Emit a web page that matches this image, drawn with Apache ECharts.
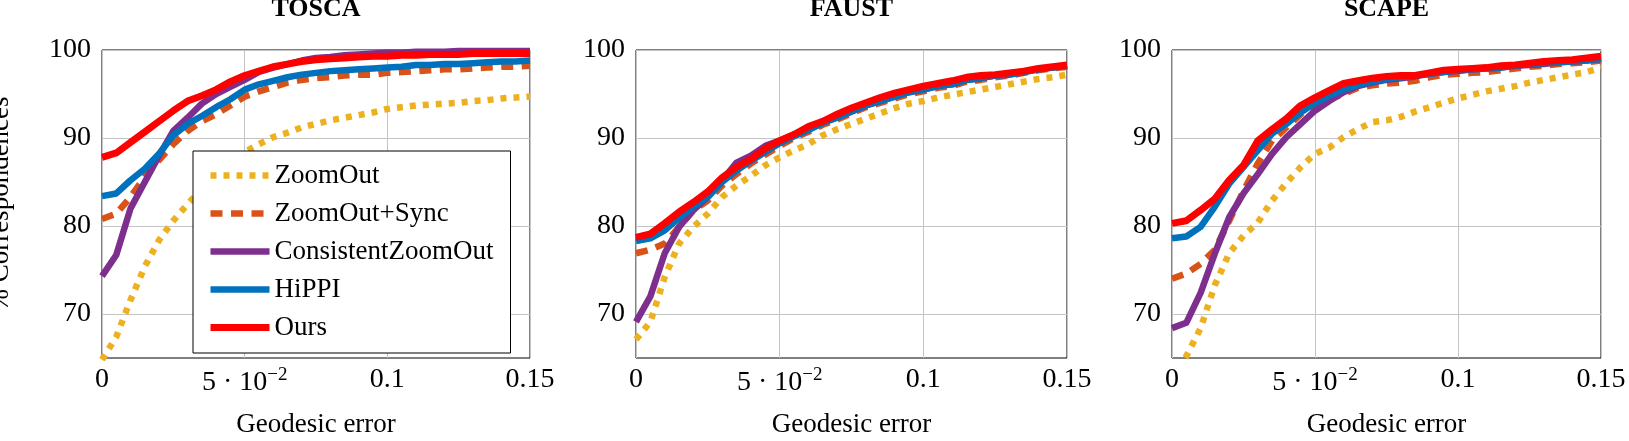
<!DOCTYPE html>
<html>
<head>
<meta charset="utf-8">
<script src="https://cdn.jsdelivr.net/npm/echarts@6/dist/echarts.min.js"></script>
<style>
html,body{margin:0;padding:0;background:#fff;}
#chart{width:1629px;height:441px;}
</style>
</head>
<body>
<div id="chart"></div>
<script>
// ---- data ----
const datasets = ['TOSCA', 'FAUST', 'SCAPE'];
const methods = ['ZoomOut', 'ZoomOut+Sync', 'ConsistentZoomOut', 'HiPPI', 'Ours'];
const xs = [0, 0.005, 0.01, 0.015, 0.02, 0.025, 0.03, 0.035, 0.04, 0.045, 0.05, 0.055, 0.06, 0.065, 0.07, 0.075,
            0.08, 0.085, 0.09, 0.095, 0.1, 0.105, 0.11, 0.115, 0.12, 0.125, 0.13, 0.135, 0.14, 0.145, 0.15];
const xTickLabels = ['0', '5 · 10', '0.1', '0.15'];
const xTickSups = ['', '−2', '', ''];
const yTickValues = [70, 80, 90, 100];

const toscaZoomOut     = [64.8, 67.4, 71.6, 75.4, 78.4, 80.6, 82.5, 84.2, 85.9, 87.1, 88.4, 89.3, 90.1, 90.6, 91.2, 91.6, 92.0, 92.3, 92.6, 92.9, 93.3, 93.5, 93.7, 93.8, 93.9, 94.0, 94.2, 94.3, 94.5, 94.6, 94.7];
const toscaSync        = [80.8, 81.4, 83.3, 85.6, 87.5, 89.3, 90.8, 91.9, 92.7, 93.7, 94.7, 95.3, 95.8, 96.3, 96.6, 96.8, 96.9, 97.1, 97.2, 97.2, 97.4, 97.5, 97.6, 97.7, 97.8, 97.8, 97.9, 98.0, 98.1, 98.1, 98.2];
const toscaConsistent  = [74.3, 76.7, 82.0, 85.0, 88.0, 90.8, 92.3, 93.9, 95.0, 95.8, 96.6, 97.5, 98.0, 98.4, 98.8, 99.1, 99.2, 99.4, 99.5, 99.6, 99.7, 99.7, 99.8, 99.8, 99.8, 99.9, 99.9, 99.9, 99.9, 99.9, 99.9];
const toscaHiPPI       = [83.4, 83.7, 85.2, 86.5, 88.2, 90.3, 91.6, 92.5, 93.5, 94.4, 95.5, 96.1, 96.5, 96.9, 97.2, 97.4, 97.6, 97.7, 97.8, 97.9, 98.0, 98.1, 98.3, 98.3, 98.4, 98.4, 98.5, 98.6, 98.7, 98.7, 98.8];
const toscaOurs        = [87.8, 88.3, 89.5, 90.7, 91.9, 93.1, 94.2, 94.8, 95.5, 96.4, 97.1, 97.6, 98.1, 98.4, 98.7, 98.9, 99.0, 99.1, 99.2, 99.3, 99.3, 99.4, 99.4, 99.5, 99.5, 99.5, 99.6, 99.6, 99.6, 99.6, 99.6];

const faustZoomOut     = [67.1, 69.1, 74.2, 78.0, 79.9, 81.4, 83.3, 84.6, 85.7, 86.9, 87.8, 88.6, 89.3, 90.3, 91.0, 91.6, 92.2, 92.8, 93.4, 93.9, 94.2, 94.6, 94.9, 95.2, 95.5, 95.8, 96.1, 96.4, 96.7, 96.9, 97.2];
const faustSync        = [76.9, 77.3, 78.0, 79.9, 81.8, 82.9, 84.6, 85.9, 87.1, 88.1, 89.1, 90.0, 90.7, 91.5, 92.1, 92.8, 93.5, 94.0, 94.5, 95.0, 95.3, 95.7, 95.9, 96.4, 96.6, 96.9, 97.1, 97.4, 97.7, 97.9, 98.1];
const faustConsistent  = [69.1, 72.0, 76.9, 79.9, 81.8, 83.3, 85.2, 87.2, 88.0, 89.1, 89.7, 90.4, 91.1, 91.8, 92.4, 93.0, 93.7, 94.2, 94.7, 95.2, 95.5, 95.9, 96.1, 96.6, 96.8, 97.1, 97.2, 97.5, 97.8, 98.0, 98.2];
const faustHiPPI       = [78.3, 78.6, 79.5, 80.9, 82.2, 83.3, 85.0, 86.3, 87.4, 88.4, 89.4, 90.2, 90.9, 91.7, 92.3, 93.0, 93.7, 94.2, 94.7, 95.2, 95.5, 95.9, 96.1, 96.6, 96.8, 97.1, 97.2, 97.5, 97.8, 98.0, 98.2];
const faustOurs        = [78.7, 79.1, 80.3, 81.6, 82.7, 83.9, 85.5, 86.7, 87.6, 88.8, 89.7, 90.4, 91.3, 91.9, 92.7, 93.4, 94.0, 94.6, 95.1, 95.5, 95.9, 96.2, 96.5, 96.9, 97.1, 97.2, 97.4, 97.6, 97.9, 98.1, 98.3];

const scapeZoomOut     = [62.5, 65.2, 68.4, 73.3, 76.9, 78.9, 80.4, 82.9, 84.9, 86.7, 88.2, 88.9, 90.1, 91.0, 91.8, 92.0, 92.4, 93.0, 93.5, 94.0, 94.5, 94.9, 95.3, 95.6, 95.9, 96.3, 96.6, 96.9, 97.2, 97.5, 98.0];
const scapeSync        = [74.0, 74.6, 75.7, 77.3, 80.6, 84.0, 87.1, 89.7, 91.2, 92.7, 93.7, 94.4, 95.0, 95.7, 96.0, 96.2, 96.3, 96.5, 96.9, 97.2, 97.3, 97.4, 97.5, 97.7, 97.9, 98.1, 98.2, 98.4, 98.5, 98.6, 98.8];
const scapeConsistent  = [68.4, 69.0, 72.4, 76.9, 81.0, 83.7, 85.9, 88.2, 90.1, 91.6, 93.1, 94.2, 95.2, 95.9, 96.3, 96.6, 96.8, 97.0, 97.3, 97.5, 97.6, 97.8, 97.9, 98.0, 98.2, 98.3, 98.4, 98.6, 98.7, 98.8, 99.0];
const scapeHiPPI       = [78.6, 78.8, 79.9, 82.2, 84.8, 86.7, 88.6, 90.5, 91.6, 92.9, 94.0, 94.8, 95.5, 96.0, 96.4, 96.7, 96.9, 97.1, 97.3, 97.5, 97.7, 97.8, 97.9, 98.0, 98.2, 98.4, 98.5, 98.6, 98.7, 98.8, 99.0];
const scapeOurs        = [80.3, 80.6, 81.8, 83.1, 85.2, 86.9, 89.7, 91.0, 92.2, 93.7, 94.6, 95.4, 96.2, 96.5, 96.8, 97.0, 97.1, 97.1, 97.4, 97.7, 97.8, 97.9, 98.0, 98.2, 98.3, 98.5, 98.7, 98.8, 98.9, 99.1, 99.3];

const values = [
  [toscaZoomOut, toscaSync, toscaConsistent, toscaHiPPI, toscaOurs],
  [faustZoomOut, faustSync, faustConsistent, faustHiPPI, faustOurs],
  [scapeZoomOut, scapeSync, scapeConsistent, scapeHiPPI, scapeOurs]
];

// ---- styles ----
const FONT = '"Liberation Serif", "Times New Roman", serif';
const colors = ['#EDB120', '#D95319', '#7E2F8E', '#0072BD', '#FF0000'];
const dashes = [[6, 7], [12, 8.5], 'solid', 'solid', 'solid'];
const widths = [6.5, 6.5, 6.5, 6.5, 7];
const grids = [
  {left: 102, top: 50, width: 428, height: 308},
  {left: 636, top: 50, width: 431, height: 308},
  {left: 1172, top: 50, width: 429, height: 308}
];

const chart = echarts.init(document.getElementById('chart'), null, {renderer: 'canvas'});

const xAxes = grids.map((g, i) => ({
  type: 'value', gridIndex: i, min: 0, max: 0.15, interval: 0.05,
  name: 'Geodesic error', nameLocation: 'middle', nameGap: 53,
  nameTextStyle: {fontFamily: FONT, fontSize: 27, color: '#000'},
  axisLine: {show: false}, axisTick: {show: false},
  splitLine: {show: true, lineStyle: {color: '#c4c4c4', width: 1}},
  axisLabel: {
    margin: 8, color: '#000', fontFamily: FONT, fontSize: 28,
    formatter: function (v) {
      const k = Math.round(v / 0.05);
      if (xTickSups[k]) return '{b|' + xTickLabels[k] + '}{s|' + xTickSups[k] + '}';
      return '{n|' + xTickLabels[k] + '}';
    },
    rich: {
      n: {fontFamily: FONT, fontSize: 28, lineHeight: 28, color: '#000'},
      b: {fontFamily: FONT, fontSize: 28, lineHeight: 28, padding: [5, 0, 0, 0], color: '#000'},
      s: {fontFamily: FONT, fontSize: 19, lineHeight: 19, verticalAlign: 'top', color: '#000'}
    }
  }
}));

const yAxes = grids.map((g, i) => ({
  type: 'value', gridIndex: i, min: 65, max: 100,
  name: i === 0 ? '% Correspondences' : '', nameLocation: 'middle', nameGap: 88,
  nameTextStyle: {fontFamily: FONT, fontSize: 27, color: '#000'},
  axisLine: {show: false},
  axisTick: {show: false, customValues: yTickValues},
  splitLine: {show: true, lineStyle: {color: '#c4c4c4', width: 1}},
  axisLabel: {customValues: yTickValues, margin: 11, color: '#000', fontFamily: FONT, fontSize: 28}
}));

const series = [];
values.forEach((set, i) => {
  set.forEach((vals, m) => {
    series.push({
      type: 'line', name: methods[m], xAxisIndex: i, yAxisIndex: i,
      data: xs.map((x, k) => [x, vals[k]]),
      symbol: 'none', showSymbol: false, clip: true, animation: false, z: 2 + m,
      lineStyle: {color: colors[m], width: widths[m], type: dashes[m], cap: 'butt', join: 'round'},
      itemStyle: {color: colors[m]}
    });
  });
});

const centers = grids.map(g => g.left + g.width / 2);

chart.setOption({
  animation: false,
  backgroundColor: '#fff',
  grid: grids.map(g => Object.assign({show: true, borderColor: '#000', borderWidth: 1, backgroundColor: 'transparent', containLabel: false, outerBoundsMode: 'none'}, g)),
  xAxis: xAxes,
  yAxis: yAxes,
  legend: {
    data: methods, orient: 'vertical', left: 193, top: 151,
    padding: [11, 17, 12, 14], itemGap: 11, itemWidth: 59, itemHeight: 26,
    backgroundColor: '#fff', borderColor: '#000', borderWidth: 1, borderRadius: 0,
    selectedMode: false, z: 20,
    itemStyle: {color: 'transparent', borderColor: 'transparent', borderWidth: 0, opacity: 0},
    lineStyle: {width: 'inherit', type: 'inherit', opacity: 1},
    textStyle: {fontFamily: FONT, fontSize: 27, lineHeight: 26, color: '#000', padding: [0, 0, 0, 0]}
  },
  graphic: datasets.map((t, i) => ({
    type: 'text', x: centers[i], y: 9, silent: true,
    style: {text: t, font: 'bold 26px ' + FONT, fill: '#000', align: 'center', verticalAlign: 'middle'}
  })),
  series: series
});
</script>
</body>
</html>
